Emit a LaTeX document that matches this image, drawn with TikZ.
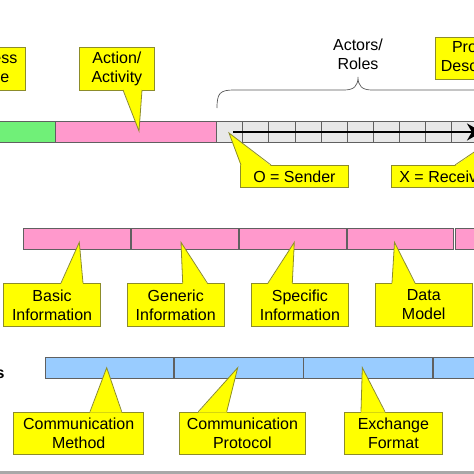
\documentclass[tikz,border=0pt]{standalone}
\usepackage{fontspec}
\setmainfont{Liberation Sans}
\usetikzlibrary{arrows.meta}
\definecolor{cyellow}{HTML}{FFFF00}
\definecolor{colive}{HTML}{8C8C2A}
\definecolor{cpink}{HTML}{FF99CC}
\definecolor{cgreen}{HTML}{70F078}
\definecolor{cgray}{HTML}{E8E8E8}
\definecolor{cblue}{HTML}{99CCFF}
\definecolor{cbar}{HTML}{606060}
\definecolor{cband}{HTML}{A8A8A8}
\newcommand\callptr[5]{%
  \fill[callfill] (#2,#5) -- (#1) -- (#3,#5) -- cycle;
  \draw[callline] (#2,#4) -- (#1) -- (#3,#4);}
\begin{document}
\begin{tikzpicture}[x=1pt,y=-1pt,
  txt/.style={font=\fontsize{16}{19}\selectfont, align=center, inner sep=0pt},
  callbox/.style={txt, draw=colive, fill=cyellow, line width=0.8pt, anchor=north west},
  callfill/.style={fill=cyellow},
  callline/.style={draw=colive, line width=0.8pt, line join=miter},
  barcell/.style={draw=cbar, line width=0.8pt},
  brace/.style={draw=black!65, line width=0.7pt}]
\useasboundingbox (0,0) rectangle (474,474);
\begin{scope}
\clip (0,0) rectangle (474,474);
% ---------- row 1 bar
\draw[barcell, fill=cgreen] (-60,121) rectangle (55.5,142);
\draw[barcell, fill=cpink] (55.5,121) rectangle (216.5,142);
\foreach \i in {0,...,10}{
  \draw[barcell, fill=cgray] (216.5+26.15*\i,121) rectangle (242.65+26.15*\i,142);
}
\coordinate (arrS) at (233,132);
\coordinate (arrE) at (482,132);
\draw[line width=2pt, -{Stealth[length=15pt,width=17pt]}] (arrS) -- (arrE);
% brace
\draw[brace] (217,108) .. controls (217,93) and (220,90) .. (234,90) -- (344,90)
  .. controls (354,90) and (358,86) .. (358,77)
  .. controls (358,86) and (362,90) .. (372,90) -- (482,90)
  .. controls (496,90) and (499,93) .. (499,108);
\node[txt] (actors) at (358,54.5) {Actors/\\Roles};
% ---------- row 1 callouts
\node[callbox, minimum width=73.2pt, minimum height=43pt] (stage) at (-48.6,47) {Process\\Stage};
\node[callbox, minimum width=75pt, minimum height=43pt] (action) at (79,47) {Action/\\Activity};
\coordinate (actionT) at (139,131);
\callptr{actionT}{123}{142}{90}{89}
\node[callbox, minimum width=91pt, minimum height=42pt] (procdesc) at (435,37) {Process\\Description};
\node[callbox, minimum width=108pt, minimum height=22pt] (sender) at (240,165) {O = Sender};
\coordinate (senderT) at (229,133);
\callptr{senderT}{241}{271}{165}{166}
\node[callbox, minimum width=108pt, minimum height=22pt] (receiver) at (391,165) {X = Receiver};
\coordinate (receiverT) at (492,140);
\callptr{receiverT}{455}{490}{165}{166}
% ---------- row 2 bar
\foreach \i in {0,...,4}{
  \draw[barcell, fill=cpink] (23.3+107.9*\i,228.3) rectangle (130.1+107.9*\i,249.7);
}
\node[callbox, minimum width=96.7pt, minimum height=43pt] (basic) at (3.3,283) {Basic\\Information};
\coordinate (basicT) at (79.3,242.3);
\callptr{basicT}{61}{83}{283}{284}
\node[callbox, minimum width=97.3pt, minimum height=43pt] (generic) at (126.7,283) {Generic\\Information};
\coordinate (genericT) at (181,242.3);
\callptr{genericT}{182.7}{207.3}{283}{284}
\node[callbox, minimum width=97.6pt, minimum height=43pt] (specific) at (250.7,283) {Specific\\Information};
\coordinate (specificT) at (294.3,242.3);
\callptr{specificT}{268}{292.3}{283}{284}
\node[callbox, minimum width=96.7pt, minimum height=43pt] (datamodel) at (375,283) {Data\\Model};
\coordinate (datamodelT) at (394.5,242.3);
\callptr{datamodelT}{392}{415}{283}{284}
% ---------- row 3 bar
\node[anchor=base east, inner sep=0pt, font=\bfseries\fontsize{16}{19}\selectfont] (row3) at (4.8,378) {Interfaces};
\foreach \i in {0,...,3}{
  \draw[barcell, fill=cblue] (45+129.4*\i,357.3) rectangle (173.5+129.4*\i,378.3);
}
\node[callbox, minimum width=130pt, minimum height=42.6pt] (commethod) at (13.3,411.7) {Communication\\Method};
\coordinate (commethodT) at (106.7,367.7);
\callptr{commethodT}{90}{121.7}{411.7}{412.7}
\node[callbox, minimum width=126pt, minimum height=42.6pt] (comproto) at (179,411.7) {Communication\\Protocol};
\coordinate (comprotoT) at (237.7,367.7);
\callptr{comprotoT}{198.3}{226.7}{411.7}{412.7}
\node[callbox, minimum width=97.4pt, minimum height=42.6pt] (exchange) at (344.3,411.7) {Exchange\\Format};
\coordinate (exchangeT) at (362.3,367.7);
\callptr{exchangeT}{361}{385}{411.7}{412.7}
% bottom band
\fill[cband] (-5,471) rectangle (480,480);
\end{scope}
\end{tikzpicture}
\end{document}
